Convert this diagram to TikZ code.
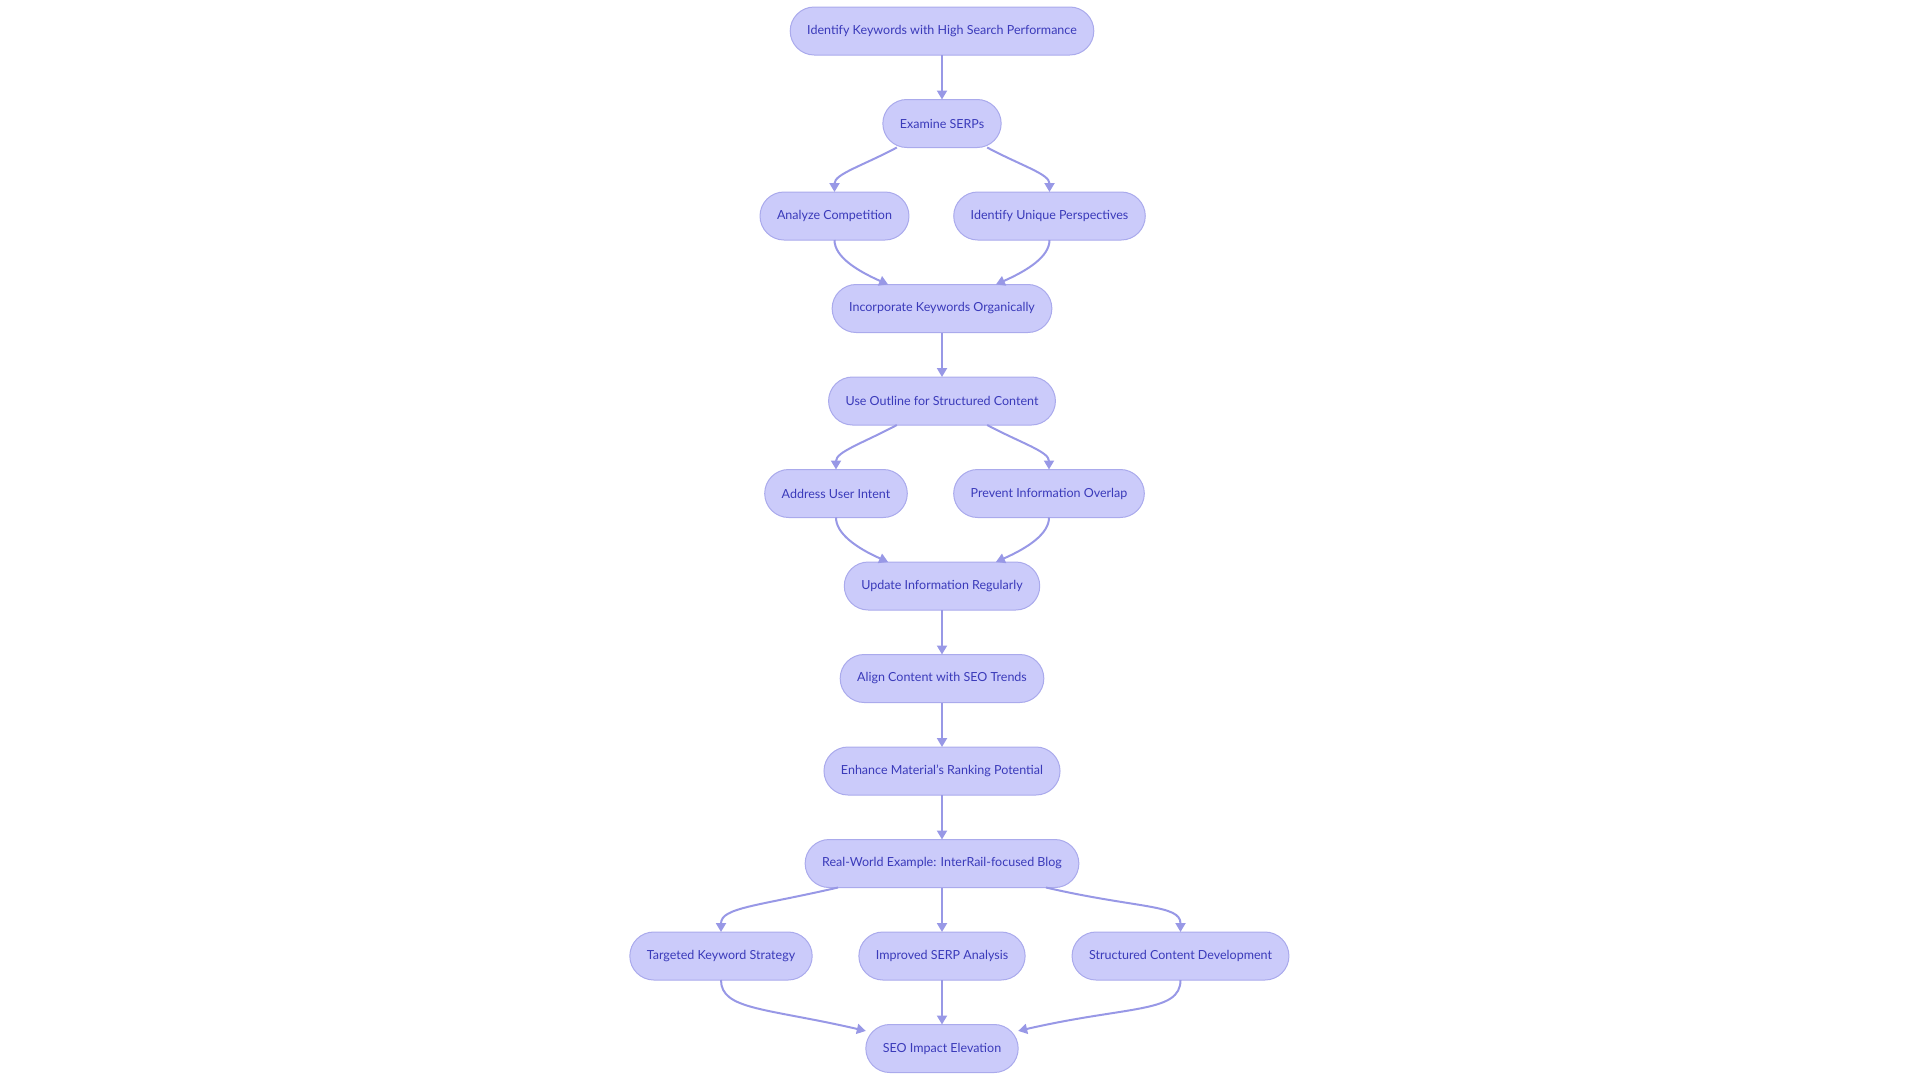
\documentclass[tikz,border=0pt]{standalone}
\usepackage{fontspec}
\setmainfont{Lato}
\usepackage{tikz}
\usepackage{tkz-graph}
\usetikzlibrary{arrows.meta}
\definecolor{nodefill}{RGB}{203,203,250}
\definecolor{nodedraw}{RGB}{170,170,236}
\definecolor{nodetext}{RGB}{58,58,186}
\definecolor{edgecolor}{RGB}{152,152,230}

\begin{document}
\begin{tikzpicture}[x=1pt,y=1pt]
\tikzset{VertexStyle/.style = {shape=rectangle, rounded corners=24pt, minimum height=48pt,
  inner xsep=17pt, fill=nodefill, draw=nodedraw, line width=1pt, text=nodetext,
  font=\fontsize{12.5}{14}\selectfont}}
\tikzset{EdgeStyle/.style = {-{Triangle[length=9pt,width=10pt]}, draw=edgecolor, line width=2pt}}
\useasboundingbox (0,0) rectangle (1920,-1080);

\Vertex[x=942,y=-31,L=Identify Keywords with High Search Performance]{identifyKeywords}
	\Vertex[x=942,y=-123.5,L=Examine SERPs]{examineSERPs}
		\Vertex[x=834.5,y=-216,L=Analyze Competition]{analyzeCompetition}
		\Vertex[x=1049.5,y=-216,L=Identify Unique Perspectives]{uniquePerspectives}
	\Vertex[x=942,y=-308.5,L=Incorporate Keywords Organically]{incorporateKeywords}
	\Vertex[x=942,y=-401,L=Use Outline for Structured Content]{useOutline}
		\Vertex[x=836,y=-493.5,L=Address User Intent]{userIntent}
		\Vertex[x=1049,y=-493.5,L=Prevent Information Overlap]{preventOverlap}
	\Vertex[x=942,y=-586,L=Update Information Regularly]{updateInfo}
	\Vertex[x=942,y=-678.5,L=Align Content with SEO Trends]{alignContent}
	\Vertex[x=942,y=-771,L=Enhance Material's Ranking Potential]{enhanceRanking}
	\Vertex[x=942,y=-863.5,L=Real-World Example: InterRail-focused Blog]{realWorld}
		\Vertex[x=721,y=-956,L=Targeted Keyword Strategy]{keywordStrategy}
		\Vertex[x=942,y=-956,L=Improved SERP Analysis]{serpAnalysis}
		\Vertex[x=1180.5,y=-956,L=Structured Content Development]{contentDevelopment}
	\Vertex[x=942,y=-1048.5,L=SEO Impact Elevation]{seoImpact}

\Edge(identifyKeywords)(examineSERPs)
\Edge[style={out=-152,in=90,out looseness=1.3,in looseness=0.6}](examineSERPs)(analyzeCompetition)
\Edge[style={out=-28,in=90,out looseness=1.3,in looseness=0.6}](examineSERPs)(uniquePerspectives)
\Edge[style={out=-90,in=156,out looseness=0.6,in looseness=1.3}](analyzeCompetition)(incorporateKeywords)
\Edge[style={out=-90,in=24,out looseness=0.6,in looseness=1.3}](uniquePerspectives)(incorporateKeywords)
\Edge(incorporateKeywords)(useOutline)
\Edge[style={out=-152,in=90,out looseness=1.3,in looseness=0.6}](useOutline)(userIntent)
\Edge[style={out=-28,in=90,out looseness=1.3,in looseness=0.6}](useOutline)(preventOverlap)
\Edge[style={out=-90,in=156,out looseness=0.6,in looseness=1.3}](userIntent)(updateInfo)
\Edge[style={out=-90,in=24,out looseness=0.6,in looseness=1.3}](preventOverlap)(updateInfo)
\Edge(updateInfo)(alignContent)
\Edge(alignContent)(enhanceRanking)
\Edge(enhanceRanking)(realWorld)
\Edge[style={out=-167,in=90,out looseness=1.7,in looseness=0.5}](realWorld)(keywordStrategy)
\Edge(realWorld)(serpAnalysis)
\Edge[style={out=-13,in=90,out looseness=1.7,in looseness=0.5}](realWorld)(contentDevelopment)
\Edge[style={out=-90,in=167,out looseness=0.5,in looseness=1.7}](keywordStrategy)(seoImpact)
\Edge(serpAnalysis)(seoImpact)
\Edge[style={out=-90,in=13,out looseness=0.5,in looseness=1.7}](contentDevelopment)(seoImpact)
\end{tikzpicture}
\end{document}
